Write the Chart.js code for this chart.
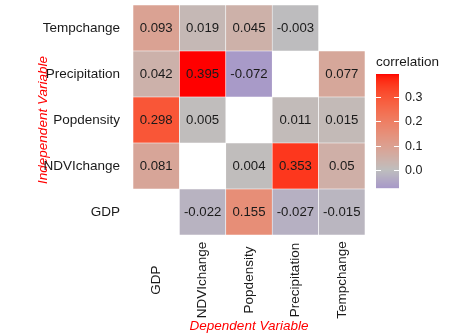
<!DOCTYPE html>
<html>
<head>
<meta charset="utf-8">
<script src="https://cdn.jsdelivr.net/npm/chart.js@4.4.0/dist/chart.umd.min.js"></script>
<style>
  html, body { margin: 0; padding: 0; background: #fff; }
  #wrap { width: 474px; height: 336px; }
</style>
</head>
<body>
<div id="wrap"><canvas id="corrChart"></canvas></div>
<script>
// columns: dependent variable, rows: independent variable (bottom to top)
const depVars = ['GDP', 'NDVIchange', 'Popdensity', 'Precipitation', 'Tempchange'];
const indepVars = ['GDP', 'NDVIchange', 'Popdensity', 'Precipitation', 'Tempchange'];

// one row per independent variable, values in depVars order
const gdpRow = [null, -0.022, 0.155, -0.027, -0.015];
const ndviRow = [0.081, null, 0.004, 0.353, 0.05];
const popRow = [0.298, 0.005, null, 0.011, 0.015];
const precipRow = [0.042, 0.395, -0.072, null, 0.077];
const tempRow = [0.093, 0.019, 0.045, -0.003, null];
const rows = [gdpRow, ndviRow, popRow, precipRow, tempRow];

const legendTicks = [0.0, 0.1, 0.2, 0.3];

const FONT = '"Liberation Sans", Arial, sans-serif';
const TEXT = '#1a1a1a';

// ---- colour scale: low -> grey -> red, interpolated in Lab ----
const allVals = rows.flat().filter(v => v !== null);
const vMin = Math.min(...allVals);
const vMax = Math.max(...allVals);

function hexToRgb(h) {
  const n = parseInt(h.slice(1), 16);
  return [(n >> 16) & 255, (n >> 8) & 255, n & 255];
}
function rgbToLab(c) {
  const lin = c.map(v => { v /= 255; return v > 0.04045 ? Math.pow((v + 0.055) / 1.055, 2.4) : v / 12.92; });
  const x = (lin[0] * 0.4124 + lin[1] * 0.3576 + lin[2] * 0.1805) / 0.95047;
  const y = (lin[0] * 0.2126 + lin[1] * 0.7152 + lin[2] * 0.0722);
  const z = (lin[0] * 0.0193 + lin[1] * 0.1192 + lin[2] * 0.9505) / 1.08883;
  const f = t => t > 0.008856 ? Math.cbrt(t) : 7.787 * t + 16 / 116;
  return [116 * f(y) - 16, 500 * (f(x) - f(y)), 200 * (f(y) - f(z))];
}
function labToRgb(lab) {
  const fy = (lab[0] + 16) / 116, fx = fy + lab[1] / 500, fz = fy - lab[2] / 200;
  const inv = t => t * t * t > 0.008856 ? t * t * t : (t - 16 / 116) / 7.787;
  const x = inv(fx) * 0.95047, y = inv(fy), z = inv(fz) * 1.08883;
  const lin = [
    x * 3.2406 + y * -1.5372 + z * -0.4986,
    x * -0.9689 + y * 1.8758 + z * 0.0415,
    x * 0.0557 + y * -0.2040 + z * 1.0570
  ];
  return lin.map(v => {
    v = v > 0.0031308 ? 1.055 * Math.pow(v, 1 / 2.4) - 0.055 : 12.92 * v;
    return Math.round(Math.min(1, Math.max(0, v)) * 255);
  });
}
const lowLab = rgbToLab(hexToRgb('#a89ac8'));
const midLab = rgbToLab(hexToRgb('#bebebe'));
const highLab = rgbToLab(hexToRgb('#ff0000'));

function fillColor(v) {
  let a, b, t;
  if (v < 0) { a = midLab; b = lowLab; t = v / vMin; }
  else { a = midLab; b = highLab; t = v / vMax; }
  const lab = a.map((c, i) => c + (b[i] - c) * t);
  const rgb = labToRgb(lab);
  return `rgb(${rgb[0]},${rgb[1]},${rgb[2]})`;
}

// each row is a floating-bar dataset spanning [r, r+1] on the y axis
const datasets = rows.map((row, r) => ({
  label: indepVars[r],
  data: row.map(v => v === null ? null : [r, r + 1]),
  corr: row,
  backgroundColor: row.map(v => v === null ? 'rgba(0,0,0,0)' : fillColor(v)),
  borderColor: '#ffffff',
  borderWidth: 0.6,
  borderSkipped: false,
  grouped: false,
  categoryPercentage: 1,
  barPercentage: 1
}));

// numbers inside the tiles
const cellLabels = {
  id: 'cellLabels',
  afterDatasetsDraw(chart) {
    const ctx = chart.ctx;
    ctx.save();
    ctx.font = '13.2px ' + FONT;
    ctx.fillStyle = TEXT;
    ctx.textAlign = 'center';
    ctx.textBaseline = 'middle';
    chart.data.datasets.forEach((ds, di) => {
      const meta = chart.getDatasetMeta(di);
      meta.data.forEach((el, i) => {
        const v = ds.corr[i];
        if (v === null) return;
        ctx.fillText(String(v), el.x, (el.y + el.base) / 2 + 0.5);
      });
    });
    ctx.restore();
  }
};

// vertical x labels centred under each column
const xLabels = {
  id: 'xLabels',
  afterDraw(chart) {
    const ctx = chart.ctx;
    const xs = chart.scales.x;
    ctx.save();
    ctx.font = '13.5px ' + FONT;
    ctx.fillStyle = TEXT;
    ctx.textAlign = 'center';
    ctx.textBaseline = 'middle';
    depVars.forEach((name, i) => {
      ctx.save();
      ctx.translate(xs.getPixelForTick(i), 280);
      ctx.rotate(-Math.PI / 2);
      ctx.fillText(name, 0, 0);
      ctx.restore();
    });
    ctx.restore();
  }
};

// colour bar legend on the right
const colorBar = {
  id: 'colorBar',
  afterDraw(chart) {
    const ctx = chart.ctx;
    const left = 376, w = 23, top = 74, bottom = 187.5;
    const yFor = v => bottom - (v - vMin) / (vMax - vMin) * (bottom - top);
    ctx.save();
    ctx.font = '13.5px ' + FONT;
    ctx.fillStyle = TEXT;
    ctx.textBaseline = 'middle';
    ctx.fillText('correlation', 376, 62);
    for (let y = top; y < bottom; y += 1) {
      const v = vMax - (y + 0.5 - top) / (bottom - top) * (vMax - vMin);
      ctx.fillStyle = fillColor(Math.max(vMin, Math.min(vMax, v)));
      ctx.fillRect(left, y, w, 1.2);
    }
    ctx.strokeStyle = '#ffffff';
    ctx.lineWidth = 1;
    ctx.font = '12.5px ' + FONT;
    legendTicks.forEach(t => {
      const y = Math.round(yFor(t)) + 0.5;
      ctx.beginPath();
      ctx.moveTo(left, y); ctx.lineTo(left + 5, y);
      ctx.moveTo(left + w - 5, y); ctx.lineTo(left + w, y);
      ctx.stroke();
      ctx.fillStyle = TEXT;
      ctx.fillText(t.toFixed(1), 405, y);
    });
    ctx.restore();
  }
};

new Chart(document.getElementById('corrChart'), {
  type: 'bar',
  data: { labels: depVars, datasets: datasets },
  options: {
    responsive: true,
    maintainAspectRatio: false,
    animation: false,
    layout: { padding: { top: 5, right: 109, bottom: 0, left: 0 } },
    plugins: {
      legend: { display: false },
      tooltip: { enabled: false }
    },
    scales: {
      x: {
        type: 'category',
        grid: { display: false },
        border: { display: false },
        ticks: { display: false },
        afterFit: s => { s.height = 101; },
        title: {
          display: true,
          text: 'Dependent Variable',
          color: 'red',
          font: { family: FONT, size: 13.5, style: 'italic' },
          padding: { top: 0, bottom: 2 }
        }
      },
      y: {
        type: 'linear',
        min: 0,
        max: 5,
        grid: { display: false },
        border: { display: false },
        afterBuildTicks: s => { s.ticks = indepVars.map((_, i) => ({ value: i + 0.5 })); },
        afterFit: s => { s.width = 133; s.paddingTop = 0; s.paddingBottom = 0; },
        ticks: {
          autoSkip: false,
          padding: 5,
          color: TEXT,
          font: { family: FONT, size: 13.5 },
          callback: (v, i) => indepVars[i]
        },
        title: {
          display: true,
          text: 'Independent Variable',
          color: 'red',
          font: { family: FONT, size: 13.5, style: 'italic' },
          padding: { top: 35, bottom: 0 }
        }
      }
    }
  },
  plugins: [cellLabels, xLabels, colorBar]
});
</script>
</body>
</html>
